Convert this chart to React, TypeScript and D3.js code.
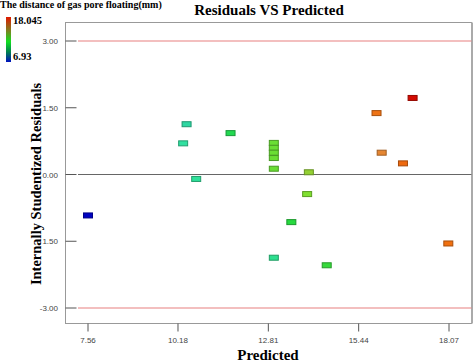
import React from "react";
import * as d3 from "d3";

const predicted = [7.56, 10.43, 10.33, 10.71, 11.71, 12.97, 12.97, 12.97, 12.97, 12.97, 12.97, 13.99, 13.94, 13.48, 14.51, 15.96, 17.01, 16.11, 16.73, 18.05];
const residuals = [-0.92, 1.13, 0.70, -0.10, 0.93, 0.71, 0.60, 0.49, 0.37, 0.13, -1.87, 0.05, -0.44, -1.07, -2.04, 1.38, 1.72, 0.49, 0.25, -1.55];
const actual = [7.0, 10.4, 10.5, 10.6, 11.9, 13.2, 13.2, 13.2, 13.2, 13.2, 10.8, 13.9, 13.5, 12.3, 12.5, 16.4, 17.9, 15.8, 16.6, 16.5];
const xTicks = [7.56, 10.18, 12.81, 15.44, 18.07];
const yTicks = [3, 1.5, 0, -1.5, -3];
const yTickLabels = ["3.00", "1.50", "0.00", "1.50", "-3.00"];
const legendRange = [6.93, 18.045];

export default function App() {
  const W = 474, H = 364;
  const left = 65.5, right = 471.5, top = 22.5, bottom = 323.5;
  const x = d3.scaleLinear().domain([7.56, 18.07]).range([88, 449]);
  const y = d3.scaleLinear().domain([-3, 3]).range([308, 41]);
  const color = d3
    .scaleLinear<string>()
    .domain([6.93, 8.5, 10.5, 12.2, 13.5, 15.5, 16.5, 18.045])
    .range(["#0000c0", "#0030d0", "#30e0a0", "#20d840", "#80e030", "#e09040", "#f07010", "#d00000"])
    .interpolate(d3.interpolateRgb);
  const mw = 9, mh = 5;
  const serif = "'Liberation Serif', 'Times New Roman', serif";
  const sans = "'Liberation Sans', Arial, sans-serif";
  return (
    <svg width={W} height={H} style={{ position: "absolute", left: 0, top: 0 }}>
      <defs>
        <linearGradient id="lg" x1="0" y1="0" x2="0" y2="1">
          <stop offset="0%" stopColor="#e01800" />
          <stop offset="30%" stopColor="#808020" />
          <stop offset="55%" stopColor="#10e020" />
          <stop offset="78%" stopColor="#008050" />
          <stop offset="100%" stopColor="#0010c0" />
        </linearGradient>
      </defs>
      <rect width={W} height={H} fill="#fff" />
      <text x={0} y={8} fontFamily={serif} fontWeight="bold" fontSize={10}>
        The distance of gas pore floating(mm)
      </text>
      <rect x={6} y={17} width={5} height={45} fill="url(#lg)" />
      <text x={13} y={24} fontFamily={serif} fontWeight="bold" fontSize={10.5}>{legendRange[1]}</text>
      <text x={13} y={60} fontFamily={serif} fontWeight="bold" fontSize={10.5}>{legendRange[0]}</text>
      <text x={269} y={15} textAnchor="middle" fontFamily={serif} fontWeight="bold" fontSize={15}>
        Residuals VS Predicted
      </text>
      {/* plot box */}
      <rect x={left} y={top} width={right - left} height={bottom - top} fill="none" stroke="#999" strokeWidth={1} />
      <line x1={right + 0.5} x2={right + 0.5} y1={top} y2={bottom} stroke="#aaa" strokeWidth={2} />
      {/* reference lines */}
      <line x1={78} x2={right} y1={y(3)} y2={y(3)} stroke="#e88080" strokeWidth={1.2} />
      <line x1={78} x2={right} y1={y(-3)} y2={y(-3)} stroke="#e88080" strokeWidth={1.2} />
      <line x1={78} x2={right} y1={y(0)} y2={y(0)} stroke="#666" strokeWidth={1.2} />
      {/* y ticks */}
      {yTicks.map((t, i) => (
        <g key={"yt" + i}>
          <line x1={left} x2={left + 11} y1={y(t)} y2={y(t)} stroke="#555" strokeWidth={1} />
          <text x={58} y={y(t) + 3} textAnchor="end" fontFamily={sans} fontSize={8} fill="#444">
            {yTickLabels[i]}
          </text>
        </g>
      ))}
      {/* x ticks */}
      {xTicks.map((t, i) => (
        <g key={"xt" + i}>
          <line x1={x(t)} x2={x(t)} y1={bottom} y2={bottom + 8} stroke="#555" strokeWidth={1} />
          <text x={x(t)} y={343} textAnchor="middle" fontFamily={sans} fontSize={8} fill="#444">
            {t.toFixed(2)}
          </text>
        </g>
      ))}
      <text x={268} y={360} textAnchor="middle" fontFamily={serif} fontWeight="bold" fontSize={15}>
        Predicted
      </text>
      <text
        transform={`translate(41, 184) rotate(-90)`}
        textAnchor="middle"
        fontFamily={serif}
        fontWeight="bold"
        fontSize={14.5}
      >
        Internally Studentized Residuals
      </text>
      {/* points */}
      {predicted.map((p, i) => {
        const c = color(actual[i]);
        return (
          <rect
            key={"pt" + i}
            x={x(p) - mw / 2}
            y={y(residuals[i]) - mh / 2}
            width={mw}
            height={mh}
            fill={c}
            stroke={d3.color(c)!.darker(1).toString()}
            strokeWidth={1}
          />
        );
      })}
    </svg>
  );
}
